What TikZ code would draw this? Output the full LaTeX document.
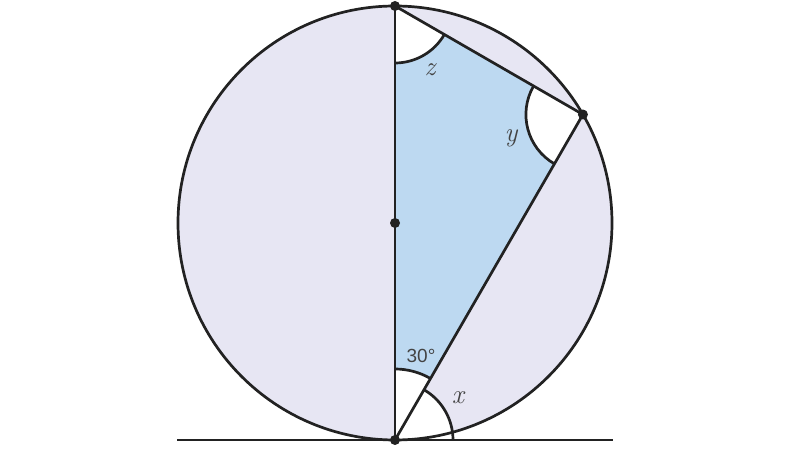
\documentclass[tikz,border=0pt]{standalone}
\usepackage{fontspec}
\usetikzlibrary{calc}
\newfontfamily\labsans{Liberation Sans}
\definecolor{lav}{HTML}{E7E6F3}
\definecolor{tri}{HTML}{BDD9F1}
\definecolor{ink}{HTML}{222222}
\begin{document}
\begin{tikzpicture}[x=1pt,y=1pt,
  edge/.style={draw=ink,line width=2.7pt},
  dot/.style={circle,fill=ink,inner sep=0pt,minimum size=10pt},
  lab/.style={text=ink!85,font=\fontsize{27}{30}\selectfont\itshape,inner sep=0pt}]
\useasboundingbox (0,0) rectangle (800,449);
\coordinate (O) at (395,226);
\coordinate (T) at (395,443);
\coordinate (B) at (395,9);
\coordinate (P) at ($(O)+(30:217)$);
\coordinate (L) at (177,9);
\coordinate (R) at (613,9);
% fills
\fill[lav] (O) circle (217);
\fill[tri] (T) -- (P) -- (B) -- cycle;
\fill[white] (T) -- ++(270:57) arc (270:330:57) -- cycle;
\fill[white] (P) -- ++(150:57) arc (150:240:57) -- cycle;
\fill[white] (B) -- ++(60:71) arc (60:90:71) -- cycle;
\fill[white] (B) -- ++(0:58) arc (0:60:58) -- cycle;
% arcs
\draw[edge] ($(T)+(270:57)$) arc (270:330:57);
\draw[edge] ($(P)+(150:57)$) arc (150:240:57);
\draw[edge] ($(B)+(60:71)$) arc (60:90:71);
\draw[edge] ($(B)+(0:58)$) arc (0:60:58);
% lines
\draw[edge] (O) circle (217);
\draw[edge] (T) -- (B);
\draw[edge] (T) -- (P) -- (B);
\draw[edge] (L) -- (R);
% dots
\node[dot] (nT) at (T) {};
\node[dot] (nP) at (P) {};
\node[dot] (nO) at (O) {};
\node[dot] (nB) at (B) {};
% labels
\node[lab] (lz) at (430,379) {z};
\node[lab] (ly) at (511,311) {y};
\node[lab] (lx) at (458,51) {x};
\node[lab,font=\labsans\fontsize{19}{22}\selectfont] (l30) at (421,93) {30°};
\end{tikzpicture}
\end{document}
